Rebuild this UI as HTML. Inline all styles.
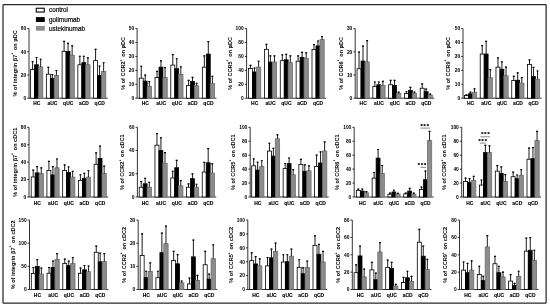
<!DOCTYPE html>
<html><head><meta charset="utf-8"><title>Figure</title>
<style>
html,body{margin:0;padding:0;background:#fff;}
body{width:550px;height:307px;overflow:hidden;}
svg{display:block;filter:blur(0.3px);}
text{font-family:"Liberation Sans",Arial,sans-serif;fill:#000;stroke:#000;stroke-width:0.2px;}
.tk text{font-size:5.6px;font-weight:bold;stroke-width:0.03px;}
.xl text{font-size:5.7px;font-weight:bold;stroke-width:0.14px;}
.yl{font-size:6.0px;font-weight:bold;stroke-width:0.02px;}
.sup{font-size:3.60px;}
.lg{font-size:7.3px;}
.st{font-size:5.5px;font-weight:bold;letter-spacing:1.0px;}
</style></head>
<body><svg width="550" height="307" viewBox="0 0 550 307">
<rect x="3.0" y="4.6" width="543.1" height="298.5" rx="0.6" fill="none" stroke="#2a2a2a" stroke-width="1.25"/>
<rect x="36.25" y="8.25" width="8.0" height="3.75" fill="#fff" stroke="#000" stroke-width="1.1"/>
<rect x="35.9" y="17.1" width="8.9" height="4.9" fill="#000"/>
<rect x="35.9" y="25.9" width="8.9" height="4.8" fill="#8c8c8c"/>
<text class="lg" transform="translate(49.0 12.3) scale(0.87 1)">control</text>
<text class="lg" transform="translate(49.0 21.7) scale(0.87 1)">golimumab</text>
<text class="lg" transform="translate(49.0 30.7) scale(0.87 1)">ustekinumab</text>
<path d="M29 28.6V98.2H107.7" fill="none" stroke="#000" stroke-width="0.8"/>
<path d="M27.2 98.2H29M27.2 75H29M27.2 51.8H29M27.2 28.6H29" stroke="#000" stroke-width="0.8"/>
<g class="tk"><text transform="translate(26.1 100.02) scale(0.87 1)" text-anchor="end">0</text><text transform="translate(26.1 76.82) scale(0.87 1)" text-anchor="end">20</text><text transform="translate(26.1 53.62) scale(0.87 1)" text-anchor="end">40</text><text transform="translate(26.1 30.42) scale(0.87 1)" text-anchor="end">60</text></g>
<text class="yl" transform="translate(16.5 63.4) rotate(-90) scale(0.93 1)" text-anchor="middle">% of integrin β7<tspan class="sup" dy="-3.6">+</tspan><tspan dy="3.6" dx="1.2"> on pDC</tspan></text>
<g stroke-width="0.8"><rect x="30.6" y="69.43" width="4" height="28.77" fill="#fff" stroke="#000"/><rect x="34.6" y="64.79" width="3.9" height="33.41" fill="#000" stroke="#000"/><rect x="38.5" y="66.88" width="4.3" height="31.32" fill="#8c8c8c" stroke="#6e6e6e"/><rect x="46.35" y="74.19" width="4" height="24.01" fill="#fff" stroke="#000"/><rect x="50.35" y="78.48" width="3.9" height="19.72" fill="#000" stroke="#000"/><rect x="54.25" y="75.46" width="4.3" height="22.74" fill="#8c8c8c" stroke="#6e6e6e"/><rect x="62.1" y="51.34" width="4" height="46.86" fill="#fff" stroke="#000"/><rect x="66.1" y="51.34" width="3.9" height="46.86" fill="#000" stroke="#000"/><rect x="70" y="55.28" width="4.3" height="42.92" fill="#8c8c8c" stroke="#6e6e6e"/><rect x="77.85" y="64.79" width="4" height="33.41" fill="#fff" stroke="#000"/><rect x="81.85" y="62.7" width="3.9" height="35.5" fill="#000" stroke="#000"/><rect x="85.75" y="64.79" width="4.3" height="33.41" fill="#8c8c8c" stroke="#6e6e6e"/><rect x="93.6" y="60.62" width="4" height="37.58" fill="#fff" stroke="#000"/><rect x="97.6" y="75.46" width="3.9" height="22.74" fill="#000" stroke="#000"/><rect x="101.5" y="71.52" width="4.3" height="26.68" fill="#8c8c8c" stroke="#6e6e6e"/></g>
<path d="M32.6 69.43V61.2M36.55 64.79V57.02M40.65 66.88V58.76M48.35 74.19V66.88M52.3 78.48V74.19M56.4 75.46V70.01M64.1 51.34V40.9M68.05 51.34V42.87M72.15 55.28V45.42M79.85 64.79V55.74M83.8 62.7V55.74M87.9 64.79V57.37M95.6 60.62V48.78M99.55 75.46V65.6M103.65 71.52V62.24" stroke="#000" stroke-width="0.9" fill="none"/>
<path d="M31.6 61.7H33.6M35.55 57.52H37.55M39.65 59.26H41.65M47.35 67.38H49.35M51.3 74.69H53.3M55.4 70.51H57.4M63.1 41.4H65.1M67.05 43.37H69.05M71.15 45.92H73.15M78.85 56.24H80.85M82.8 56.24H84.8M86.9 57.87H88.9M94.6 49.28H96.6M98.55 66.1H100.55M102.65 62.74H104.65" stroke="#000" stroke-width="1.2" fill="none"/>
<g class="xl"><text transform="translate(36.7 105.05) scale(0.87 1)" text-anchor="middle">HC</text><text transform="translate(52.45 105.05) scale(0.87 1)" text-anchor="middle">aUC</text><text transform="translate(68.2 105.05) scale(0.87 1)" text-anchor="middle">qUC</text><text transform="translate(83.95 105.05) scale(0.87 1)" text-anchor="middle">aCD</text><text transform="translate(99.7 105.05) scale(0.87 1)" text-anchor="middle">qCD</text></g>
<path d="M137.1 28.6V98.2H216.45" fill="none" stroke="#000" stroke-width="0.8"/>
<path d="M135.3 98.2H137.1M135.3 84.28H137.1M135.3 70.36H137.1M135.3 56.44H137.1M135.3 42.52H137.1M135.3 28.6H137.1" stroke="#000" stroke-width="0.8"/>
<g class="tk"><text transform="translate(134.2 100.02) scale(0.87 1)" text-anchor="end">0</text><text transform="translate(134.2 86.1) scale(0.87 1)" text-anchor="end">10</text><text transform="translate(134.2 72.18) scale(0.87 1)" text-anchor="end">20</text><text transform="translate(134.2 58.26) scale(0.87 1)" text-anchor="end">30</text><text transform="translate(134.2 44.34) scale(0.87 1)" text-anchor="end">40</text><text transform="translate(134.2 30.42) scale(0.87 1)" text-anchor="end">50</text></g>
<text class="yl" transform="translate(125.1 63.4) rotate(-90) scale(0.93 1)" text-anchor="middle">% of CCR2<tspan class="sup" dy="-3.6">+</tspan><tspan dy="3.6" dx="1.2"> on pDC</tspan></text>
<g stroke-width="0.8"><rect x="139.25" y="78.16" width="4" height="20.04" fill="#fff" stroke="#000"/><rect x="143.25" y="81.08" width="3.9" height="17.12" fill="#000" stroke="#000"/><rect x="147.15" y="86.37" width="4.3" height="11.83" fill="#8c8c8c" stroke="#6e6e6e"/><rect x="155.03" y="77.46" width="4" height="20.74" fill="#fff" stroke="#000"/><rect x="159.03" y="67.16" width="3.9" height="31.04" fill="#000" stroke="#000"/><rect x="162.93" y="77.46" width="4.3" height="20.74" fill="#8c8c8c" stroke="#6e6e6e"/><rect x="170.8" y="65.07" width="4" height="33.13" fill="#fff" stroke="#000"/><rect x="174.8" y="68.69" width="3.9" height="29.51" fill="#000" stroke="#000"/><rect x="178.7" y="74.54" width="4.3" height="23.66" fill="#8c8c8c" stroke="#6e6e6e"/><rect x="186.57" y="85.53" width="4" height="12.67" fill="#fff" stroke="#000"/><rect x="190.57" y="81.36" width="3.9" height="16.84" fill="#000" stroke="#000"/><rect x="194.47" y="85.81" width="4.3" height="12.39" fill="#8c8c8c" stroke="#6e6e6e"/><rect x="202.35" y="67.16" width="4" height="31.04" fill="#fff" stroke="#000"/><rect x="206.35" y="54.07" width="3.9" height="44.13" fill="#000" stroke="#000"/><rect x="210.25" y="83.31" width="4.3" height="14.89" fill="#8c8c8c" stroke="#6e6e6e"/></g>
<path d="M141.25 78.16V65.77M145.2 81.08V74.54M149.3 86.37V81.08M157.03 77.46V70.92M160.97 67.16V60.34M165.08 77.46V67.16M172.8 65.07V54.07M176.75 68.69V58.25M180.85 74.54V66.46M188.57 85.53V79.83M192.52 81.36V76.9M196.62 85.81V82.89M204.35 67.16V55.33M208.3 54.07V41.13M212.4 83.31V75.93" stroke="#000" stroke-width="0.9" fill="none"/>
<path d="M140.25 66.27H142.25M144.2 75.04H146.2M148.3 81.58H150.3M156.03 71.42H158.03M159.97 60.84H161.97M164.08 67.66H166.08M171.8 54.57H173.8M175.75 58.75H177.75M179.85 66.96H181.85M187.57 80.33H189.57M191.52 77.4H193.52M195.62 83.39H197.62M203.35 55.83H205.35M207.3 41.63H209.3M211.4 76.43H213.4" stroke="#000" stroke-width="1.2" fill="none"/>
<g class="xl"><text transform="translate(145.35 105.05) scale(0.87 1)" text-anchor="middle">HC</text><text transform="translate(161.12 105.05) scale(0.87 1)" text-anchor="middle">aUC</text><text transform="translate(176.9 105.05) scale(0.87 1)" text-anchor="middle">qUC</text><text transform="translate(192.67 105.05) scale(0.87 1)" text-anchor="middle">aCD</text><text transform="translate(208.45 105.05) scale(0.87 1)" text-anchor="middle">qCD</text></g>
<path d="M246.6 28.6V98.2H326.1" fill="none" stroke="#000" stroke-width="0.8"/>
<path d="M244.8 98.2H246.6M244.8 84.28H246.6M244.8 70.36H246.6M244.8 56.44H246.6M244.8 42.52H246.6M244.8 28.6H246.6" stroke="#000" stroke-width="0.8"/>
<g class="tk"><text transform="translate(243.7 100.02) scale(0.87 1)" text-anchor="end">0</text><text transform="translate(243.7 86.1) scale(0.87 1)" text-anchor="end">20</text><text transform="translate(243.7 72.18) scale(0.87 1)" text-anchor="end">40</text><text transform="translate(243.7 58.26) scale(0.87 1)" text-anchor="end">60</text><text transform="translate(243.7 44.34) scale(0.87 1)" text-anchor="end">80</text><text transform="translate(243.7 30.42) scale(0.87 1)" text-anchor="end">100</text></g>
<text class="yl" transform="translate(231.9 63.4) rotate(-90) scale(0.93 1)" text-anchor="middle">% of CCR5<tspan class="sup" dy="-3.6">+</tspan><tspan dy="3.6" dx="1.2"> on pDC</tspan></text>
<g stroke-width="0.8"><rect x="248.55" y="68.41" width="4" height="29.79" fill="#fff" stroke="#000"/><rect x="252.55" y="71.96" width="3.9" height="26.24" fill="#000" stroke="#000"/><rect x="256.45" y="67.16" width="4.3" height="31.04" fill="#8c8c8c" stroke="#6e6e6e"/><rect x="264.41" y="49.34" width="4" height="48.86" fill="#fff" stroke="#000"/><rect x="268.41" y="62.08" width="3.9" height="36.12" fill="#000" stroke="#000"/><rect x="272.31" y="62.08" width="4.3" height="36.12" fill="#8c8c8c" stroke="#6e6e6e"/><rect x="280.27" y="60.69" width="4" height="37.51" fill="#fff" stroke="#000"/><rect x="284.27" y="59.78" width="3.9" height="38.42" fill="#000" stroke="#000"/><rect x="288.17" y="62.7" width="4.3" height="35.5" fill="#8c8c8c" stroke="#6e6e6e"/><rect x="296.14" y="61.17" width="4" height="37.03" fill="#fff" stroke="#000"/><rect x="300.14" y="57.34" width="3.9" height="40.86" fill="#000" stroke="#000"/><rect x="304.04" y="58.25" width="4.3" height="39.95" fill="#8c8c8c" stroke="#6e6e6e"/><rect x="312" y="49.41" width="4" height="48.79" fill="#fff" stroke="#000"/><rect x="316" y="45.86" width="3.9" height="52.34" fill="#000" stroke="#000"/><rect x="319.9" y="39.6" width="4.3" height="58.6" fill="#8c8c8c" stroke="#6e6e6e"/></g>
<path d="M250.55 68.41V64.79M254.5 71.96V67.65M258.6 67.16V60.76M266.41 49.34V43.91M270.36 62.08V55.33M274.46 62.08V55.33M282.27 60.69V54.42M286.22 59.78V53.8M290.32 62.7V55.33M298.14 61.17V55.33M302.09 57.34V51.78M306.19 58.25V52.4M314 49.41V44.05M317.95 45.86V40.5M322.05 39.6V36.05" stroke="#000" stroke-width="0.9" fill="none"/>
<path d="M249.55 65.29H251.55M253.5 68.15H255.5M257.6 61.26H259.6M265.41 44.41H267.41M269.36 55.83H271.36M273.46 55.83H275.46M281.27 54.92H283.27M285.22 54.3H287.22M289.32 55.83H291.32M297.14 55.83H299.14M301.09 52.28H303.09M305.19 52.9H307.19M313 44.55H315M316.95 41H318.95M321.05 36.55H323.05" stroke="#000" stroke-width="1.2" fill="none"/>
<g class="xl"><text transform="translate(254.65 105.05) scale(0.87 1)" text-anchor="middle">HC</text><text transform="translate(270.51 105.05) scale(0.87 1)" text-anchor="middle">aUC</text><text transform="translate(286.38 105.05) scale(0.87 1)" text-anchor="middle">qUC</text><text transform="translate(302.24 105.05) scale(0.87 1)" text-anchor="middle">aCD</text><text transform="translate(318.1 105.05) scale(0.87 1)" text-anchor="middle">qCD</text></g>
<path d="M355.2 28.6V98.2H434.3" fill="none" stroke="#000" stroke-width="0.8"/>
<path d="M353.4 98.2H355.2M353.4 75H355.2M353.4 51.8H355.2M353.4 28.6H355.2" stroke="#000" stroke-width="0.8"/>
<g class="tk"><text transform="translate(352.3 100.02) scale(0.87 1)" text-anchor="end">0</text><text transform="translate(352.3 76.82) scale(0.87 1)" text-anchor="end">10</text><text transform="translate(352.3 53.62) scale(0.87 1)" text-anchor="end">20</text><text transform="translate(352.3 30.42) scale(0.87 1)" text-anchor="end">30</text></g>
<text class="yl" transform="translate(342.5 63.4) rotate(-90) scale(0.93 1)" text-anchor="middle">% of CCR6<tspan class="sup" dy="-3.6">+</tspan><tspan dy="3.6" dx="1.2"> on pDC</tspan></text>
<g stroke-width="0.8"><rect x="357.05" y="68.74" width="4" height="29.46" fill="#fff" stroke="#000"/><rect x="361.05" y="61.08" width="3.9" height="37.12" fill="#000" stroke="#000"/><rect x="364.95" y="62.01" width="4.3" height="36.19" fill="#8c8c8c" stroke="#6e6e6e"/><rect x="372.84" y="86.37" width="4" height="11.83" fill="#fff" stroke="#000"/><rect x="376.84" y="84.74" width="3.9" height="13.46" fill="#000" stroke="#000"/><rect x="380.74" y="85.44" width="4.3" height="12.76" fill="#8c8c8c" stroke="#6e6e6e"/><rect x="388.62" y="84.74" width="4" height="13.46" fill="#fff" stroke="#000"/><rect x="392.62" y="85.44" width="3.9" height="12.76" fill="#000" stroke="#000"/><rect x="396.52" y="93.56" width="4.3" height="4.64" fill="#8c8c8c" stroke="#6e6e6e"/><rect x="404.41" y="93.56" width="4" height="4.64" fill="#fff" stroke="#000"/><rect x="408.41" y="90.31" width="3.9" height="7.89" fill="#000" stroke="#000"/><rect x="412.31" y="93.33" width="4.3" height="4.87" fill="#8c8c8c" stroke="#6e6e6e"/><rect x="420.2" y="88.22" width="4" height="9.98" fill="#fff" stroke="#000"/><rect x="424.2" y="91.7" width="3.9" height="6.5" fill="#000" stroke="#000"/><rect x="428.1" y="95.18" width="4.3" height="3.02" fill="#8c8c8c" stroke="#6e6e6e"/></g>
<path d="M359.05 68.74V51.57M363 61.08V45.54M367.1 62.01V40.2M374.84 86.37V81.5M378.79 84.74V81.5M382.89 85.44V80.8M390.62 84.74V79.87M394.57 85.44V79.87M398.67 93.56V91.7M406.41 93.56V91.24M410.36 90.31V86.83M414.46 93.33V91.7M422.2 88.22V83.35M426.15 91.7V88.69M430.25 95.18V93.56" stroke="#000" stroke-width="0.9" fill="none"/>
<path d="M358.05 52.07H360.05M362 46.04H364M366.1 40.7H368.1M373.84 82H375.84M377.79 82H379.79M381.89 81.3H383.89M389.62 80.37H391.62M393.57 80.37H395.57M397.67 92.2H399.67M405.41 91.74H407.41M409.36 87.33H411.36M413.46 92.2H415.46M421.2 83.85H423.2M425.15 89.19H427.15M429.25 94.06H431.25" stroke="#000" stroke-width="1.2" fill="none"/>
<g class="xl"><text transform="translate(363.15 105.05) scale(0.87 1)" text-anchor="middle">HC</text><text transform="translate(378.94 105.05) scale(0.87 1)" text-anchor="middle">aUC</text><text transform="translate(394.73 105.05) scale(0.87 1)" text-anchor="middle">qUC</text><text transform="translate(410.51 105.05) scale(0.87 1)" text-anchor="middle">aCD</text><text transform="translate(426.3 105.05) scale(0.87 1)" text-anchor="middle">qCD</text></g>
<path d="M463 28.6V98.2H541.6" fill="none" stroke="#000" stroke-width="0.8"/>
<path d="M461.2 98.2H463M461.2 84.28H463M461.2 70.36H463M461.2 56.44H463M461.2 42.52H463M461.2 28.6H463" stroke="#000" stroke-width="0.8"/>
<g class="tk"><text transform="translate(460.1 100.02) scale(0.87 1)" text-anchor="end">0</text><text transform="translate(460.1 86.1) scale(0.87 1)" text-anchor="end">10</text><text transform="translate(460.1 72.18) scale(0.87 1)" text-anchor="end">20</text><text transform="translate(460.1 58.26) scale(0.87 1)" text-anchor="end">30</text><text transform="translate(460.1 44.34) scale(0.87 1)" text-anchor="end">40</text><text transform="translate(460.1 30.42) scale(0.87 1)" text-anchor="end">50</text></g>
<text class="yl" transform="translate(449.5 63.4) rotate(-90) scale(0.93 1)" text-anchor="middle">% of CCR9<tspan class="sup" dy="-3.6">+</tspan><tspan dy="3.6" dx="1.2"> on pDC</tspan></text>
<g stroke-width="0.8"><rect x="464.45" y="95.56" width="4" height="2.64" fill="#fff" stroke="#000"/><rect x="468.45" y="93.75" width="3.9" height="4.45" fill="#000" stroke="#000"/><rect x="472.35" y="92.21" width="4.3" height="5.99" fill="#8c8c8c" stroke="#6e6e6e"/><rect x="480.21" y="54.07" width="4" height="44.13" fill="#fff" stroke="#000"/><rect x="484.21" y="54.07" width="3.9" height="44.13" fill="#000" stroke="#000"/><rect x="488.11" y="77.74" width="4.3" height="20.46" fill="#8c8c8c" stroke="#6e6e6e"/><rect x="495.98" y="67.16" width="4" height="31.04" fill="#fff" stroke="#000"/><rect x="499.98" y="69.25" width="3.9" height="28.95" fill="#000" stroke="#000"/><rect x="503.88" y="75.79" width="4.3" height="22.41" fill="#8c8c8c" stroke="#6e6e6e"/><rect x="511.74" y="80.52" width="4" height="17.68" fill="#fff" stroke="#000"/><rect x="515.74" y="80.24" width="3.9" height="17.96" fill="#000" stroke="#000"/><rect x="519.64" y="83.17" width="4.3" height="15.03" fill="#8c8c8c" stroke="#6e6e6e"/><rect x="527.5" y="64.51" width="4" height="33.69" fill="#fff" stroke="#000"/><rect x="531.5" y="76.62" width="3.9" height="21.58" fill="#000" stroke="#000"/><rect x="535.4" y="79.27" width="4.3" height="18.93" fill="#8c8c8c" stroke="#6e6e6e"/></g>
<path d="M466.45 95.56V94.3M470.4 93.75V91.66M474.5 92.21V88.46M482.21 54.07V45.03M486.16 54.07V40.85M490.26 77.74V69.11M497.98 67.16V57.41M501.93 69.25V61.45M506.02 75.79V66.6M513.74 80.52V75.79M517.69 80.24V72.31M521.79 83.17V77.04M529.5 64.51V59.36M533.45 76.62V66.88M537.55 79.27V70.5" stroke="#000" stroke-width="0.9" fill="none"/>
<path d="M465.45 94.8H467.45M469.4 92.16H471.4M473.5 88.96H475.5M481.21 45.53H483.21M485.16 41.35H487.16M489.26 69.61H491.26M496.98 57.91H498.98M500.93 61.95H502.93M505.02 67.1H507.02M512.74 76.29H514.74M516.69 72.81H518.69M520.79 77.54H522.79M528.5 59.86H530.5M532.45 67.38H534.45M536.55 71H538.55" stroke="#000" stroke-width="1.2" fill="none"/>
<g class="xl"><text transform="translate(470.55 105.05) scale(0.87 1)" text-anchor="middle">HC</text><text transform="translate(486.31 105.05) scale(0.87 1)" text-anchor="middle">aUC</text><text transform="translate(502.08 105.05) scale(0.87 1)" text-anchor="middle">qUC</text><text transform="translate(517.84 105.05) scale(0.87 1)" text-anchor="middle">aCD</text><text transform="translate(533.6 105.05) scale(0.87 1)" text-anchor="middle">qCD</text></g>
<path d="M29 127.3V197H108.2" fill="none" stroke="#000" stroke-width="0.8"/>
<path d="M27.2 197H29M27.2 179.57H29M27.2 162.15H29M27.2 144.72H29M27.2 127.3H29" stroke="#000" stroke-width="0.8"/>
<g class="tk"><text transform="translate(26.1 198.82) scale(0.87 1)" text-anchor="end">0</text><text transform="translate(26.1 181.39) scale(0.87 1)" text-anchor="end">20</text><text transform="translate(26.1 163.97) scale(0.87 1)" text-anchor="end">40</text><text transform="translate(26.1 146.54) scale(0.87 1)" text-anchor="end">60</text><text transform="translate(26.1 129.12) scale(0.87 1)" text-anchor="end">80</text></g>
<text class="yl" transform="translate(16.5 162.15) rotate(-90) scale(0.93 1)" text-anchor="middle">% of integrin β7<tspan class="sup" dy="-3.6">+</tspan><tspan dy="3.6" dx="1.2"> on cDC1</tspan></text>
<g stroke-width="0.8"><rect x="31.2" y="176.96" width="4" height="20.04" fill="#fff" stroke="#000"/><rect x="35.2" y="172.87" width="3.9" height="24.13" fill="#000" stroke="#000"/><rect x="39.1" y="173.65" width="4.3" height="23.35" fill="#8c8c8c" stroke="#6e6e6e"/><rect x="46.92" y="170.43" width="4" height="26.57" fill="#fff" stroke="#000"/><rect x="50.92" y="174.96" width="3.9" height="22.04" fill="#000" stroke="#000"/><rect x="54.82" y="167.81" width="4.3" height="29.19" fill="#8c8c8c" stroke="#6e6e6e"/><rect x="62.65" y="170.43" width="4" height="26.57" fill="#fff" stroke="#000"/><rect x="66.65" y="172.43" width="3.9" height="24.57" fill="#000" stroke="#000"/><rect x="70.55" y="177.14" width="4.3" height="19.86" fill="#8c8c8c" stroke="#6e6e6e"/><rect x="78.38" y="180.45" width="4" height="16.55" fill="#fff" stroke="#000"/><rect x="82.38" y="178.27" width="3.9" height="18.73" fill="#000" stroke="#000"/><rect x="86.28" y="177.14" width="4.3" height="19.86" fill="#8c8c8c" stroke="#6e6e6e"/><rect x="94.1" y="164.33" width="4" height="32.67" fill="#fff" stroke="#000"/><rect x="98.1" y="158.49" width="3.9" height="38.51" fill="#000" stroke="#000"/><rect x="102" y="173.65" width="4.3" height="23.35" fill="#8c8c8c" stroke="#6e6e6e"/></g>
<path d="M33.2 176.96V169.64M37.15 172.87V166.16M41.25 173.65V167.46M48.92 170.43V160.84M52.88 174.96V166.16M56.97 167.81V158.49M64.65 170.43V164.33M68.6 172.43V166.51M72.7 177.14V170.95M80.38 180.45V174.26M84.33 178.27V172.95M88.43 177.14V170.25M96.1 164.33V152.3M100.05 158.49V145.68M104.15 173.65V165.72" stroke="#000" stroke-width="0.9" fill="none"/>
<path d="M32.2 170.14H34.2M36.15 166.66H38.15M40.25 167.96H42.25M47.92 161.34H49.92M51.88 166.66H53.88M55.97 158.99H57.97M63.65 164.83H65.65M67.6 167.01H69.6M71.7 171.45H73.7M79.38 174.76H81.38M83.33 173.45H85.33M87.43 170.75H89.43M95.1 152.8H97.1M99.05 146.18H101.05M103.15 166.22H105.15" stroke="#000" stroke-width="1.2" fill="none"/>
<g class="xl"><text transform="translate(37.3 204.75) scale(0.87 1)" text-anchor="middle">HC</text><text transform="translate(53.02 204.75) scale(0.87 1)" text-anchor="middle">aUC</text><text transform="translate(68.75 204.75) scale(0.87 1)" text-anchor="middle">qUC</text><text transform="translate(84.47 204.75) scale(0.87 1)" text-anchor="middle">aCD</text><text transform="translate(100.2 204.75) scale(0.87 1)" text-anchor="middle">qCD</text></g>
<path d="M137.4 127.3V197H216.35" fill="none" stroke="#000" stroke-width="0.8"/>
<path d="M135.6 197H137.4M135.6 173.77H137.4M135.6 150.53H137.4M135.6 127.3H137.4" stroke="#000" stroke-width="0.8"/>
<g class="tk"><text transform="translate(134.5 198.82) scale(0.87 1)" text-anchor="end">0</text><text transform="translate(134.5 175.58) scale(0.87 1)" text-anchor="end">20</text><text transform="translate(134.5 152.35) scale(0.87 1)" text-anchor="end">40</text><text transform="translate(134.5 129.12) scale(0.87 1)" text-anchor="end">60</text></g>
<text class="yl" transform="translate(124.2 162.15) rotate(-90) scale(0.93 1)" text-anchor="middle">% of CCR2<tspan class="sup" dy="-3.6">+</tspan><tspan dy="3.6" dx="1.2"> on cDC1</tspan></text>
<g stroke-width="0.8"><rect x="139.2" y="187.24" width="4" height="9.76" fill="#fff" stroke="#000"/><rect x="143.2" y="183.76" width="3.9" height="13.24" fill="#000" stroke="#000"/><rect x="147.1" y="187.24" width="4.3" height="9.76" fill="#8c8c8c" stroke="#6e6e6e"/><rect x="154.96" y="145.19" width="4" height="51.81" fill="#fff" stroke="#000"/><rect x="158.96" y="150.53" width="3.9" height="46.47" fill="#000" stroke="#000"/><rect x="162.86" y="163.31" width="4.3" height="33.69" fill="#8c8c8c" stroke="#6e6e6e"/><rect x="170.72" y="177.95" width="4" height="19.05" fill="#fff" stroke="#000"/><rect x="174.72" y="167.73" width="3.9" height="29.27" fill="#000" stroke="#000"/><rect x="178.62" y="185.85" width="4.3" height="11.15" fill="#8c8c8c" stroke="#6e6e6e"/><rect x="186.49" y="187.24" width="4" height="9.76" fill="#fff" stroke="#000"/><rect x="190.49" y="178.65" width="3.9" height="18.35" fill="#000" stroke="#000"/><rect x="194.39" y="187.24" width="4.3" height="9.76" fill="#8c8c8c" stroke="#6e6e6e"/><rect x="202.25" y="172.02" width="4" height="24.98" fill="#fff" stroke="#000"/><rect x="206.25" y="162.73" width="3.9" height="34.27" fill="#000" stroke="#000"/><rect x="210.15" y="173.19" width="4.3" height="23.81" fill="#8c8c8c" stroke="#6e6e6e"/></g>
<path d="M141.2 187.24V181.09M145.15 183.76V177.95M149.25 187.24V181.9M156.96 145.19V133.22M160.91 150.53V137.29M165.01 163.31V152.16M172.72 177.95V170.75M176.67 167.73V159.83M180.78 185.85V180.04M188.49 187.24V183.29M192.44 178.65V173.3M196.54 187.24V183.76M204.25 172.02V161.92M208.2 162.73V148.09M212.3 173.19V163.31" stroke="#000" stroke-width="0.9" fill="none"/>
<path d="M140.2 181.59H142.2M144.15 178.45H146.15M148.25 182.4H150.25M155.96 133.72H157.96M159.91 137.79H161.91M164.01 152.66H166.01M171.72 171.25H173.72M175.67 160.33H177.67M179.78 180.54H181.78M187.49 183.79H189.49M191.44 173.8H193.44M195.54 184.26H197.54M203.25 162.42H205.25M207.2 148.59H209.2M211.3 163.81H213.3" stroke="#000" stroke-width="1.2" fill="none"/>
<g class="xl"><text transform="translate(145.3 204.75) scale(0.87 1)" text-anchor="middle">HC</text><text transform="translate(161.06 204.75) scale(0.87 1)" text-anchor="middle">aUC</text><text transform="translate(176.82 204.75) scale(0.87 1)" text-anchor="middle">qUC</text><text transform="translate(192.59 204.75) scale(0.87 1)" text-anchor="middle">aCD</text><text transform="translate(208.35 204.75) scale(0.87 1)" text-anchor="middle">qCD</text></g>
<path d="M250.2 127.3V197H328.7" fill="none" stroke="#000" stroke-width="0.8"/>
<path d="M248.4 197H250.2M248.4 183.06H250.2M248.4 169.12H250.2M248.4 155.18H250.2M248.4 141.24H250.2M248.4 127.3H250.2" stroke="#000" stroke-width="0.8"/>
<g class="tk"><text transform="translate(247.3 198.82) scale(0.87 1)" text-anchor="end">0</text><text transform="translate(247.3 184.88) scale(0.87 1)" text-anchor="end">20</text><text transform="translate(247.3 170.94) scale(0.87 1)" text-anchor="end">40</text><text transform="translate(247.3 157) scale(0.87 1)" text-anchor="end">60</text><text transform="translate(247.3 143.06) scale(0.87 1)" text-anchor="end">80</text><text transform="translate(247.3 129.12) scale(0.87 1)" text-anchor="end">100</text></g>
<text class="yl" transform="translate(234.6 162.15) rotate(-90) scale(0.93 1)" text-anchor="middle">% of CCR5<tspan class="sup" dy="-3.6">+</tspan><tspan dy="3.6" dx="1.2"> on cDC1</tspan></text>
<g stroke-width="0.8"><rect x="251.7" y="165.84" width="4" height="31.16" fill="#fff" stroke="#000"/><rect x="255.7" y="170.03" width="3.9" height="26.97" fill="#000" stroke="#000"/><rect x="259.6" y="166.61" width="4.3" height="30.39" fill="#8c8c8c" stroke="#6e6e6e"/><rect x="267.43" y="151.07" width="4" height="45.93" fill="#fff" stroke="#000"/><rect x="271.43" y="156.09" width="3.9" height="40.91" fill="#000" stroke="#000"/><rect x="275.32" y="138.8" width="4.3" height="58.2" fill="#8c8c8c" stroke="#6e6e6e"/><rect x="283.15" y="168.63" width="4" height="28.37" fill="#fff" stroke="#000"/><rect x="287.15" y="163.61" width="3.9" height="33.39" fill="#000" stroke="#000"/><rect x="291.05" y="174.77" width="4.3" height="22.23" fill="#8c8c8c" stroke="#6e6e6e"/><rect x="298.88" y="164.38" width="4" height="32.62" fill="#fff" stroke="#000"/><rect x="302.88" y="171.35" width="3.9" height="25.65" fill="#000" stroke="#000"/><rect x="306.77" y="170.79" width="4.3" height="26.21" fill="#8c8c8c" stroke="#6e6e6e"/><rect x="314.6" y="166.4" width="4" height="30.6" fill="#fff" stroke="#000"/><rect x="318.6" y="162.99" width="3.9" height="34.01" fill="#000" stroke="#000"/><rect x="322.5" y="151.07" width="4.3" height="45.93" fill="#8c8c8c" stroke="#6e6e6e"/></g>
<path d="M253.7 165.84V158.32M257.65 170.03V161.73M261.75 166.61V160.27M269.43 151.07V142.77M273.38 156.09V147.79M277.47 138.8V134.41M285.15 168.63V162.99M289.1 163.61V157.48M293.2 174.77V169.12M300.88 164.38V158.87M304.82 171.35V164.38M308.92 170.79V165.29M316.6 166.4V154.69M320.55 162.99V151.35M324.65 151.07V141.31" stroke="#000" stroke-width="0.9" fill="none"/>
<path d="M252.7 158.82H254.7M256.65 162.23H258.65M260.75 160.77H262.75M268.43 143.27H270.43M272.38 148.29H274.38M276.47 134.91H278.47M284.15 163.49H286.15M288.1 157.98H290.1M292.2 169.62H294.2M299.88 159.37H301.88M303.82 164.88H305.82M307.92 165.79H309.92M315.6 155.19H317.6M319.55 151.85H321.55M323.65 141.81H325.65" stroke="#000" stroke-width="1.2" fill="none"/>
<g class="xl"><text transform="translate(257.8 204.75) scale(0.87 1)" text-anchor="middle">HC</text><text transform="translate(273.53 204.75) scale(0.87 1)" text-anchor="middle">aUC</text><text transform="translate(289.25 204.75) scale(0.87 1)" text-anchor="middle">qUC</text><text transform="translate(304.98 204.75) scale(0.87 1)" text-anchor="middle">aCD</text><text transform="translate(320.7 204.75) scale(0.87 1)" text-anchor="middle">qCD</text></g>
<path d="M354.2 127.3V197H433.6" fill="none" stroke="#000" stroke-width="0.8"/>
<path d="M352.4 197H354.2M352.4 183.06H354.2M352.4 169.12H354.2M352.4 155.18H354.2M352.4 141.24H354.2M352.4 127.3H354.2" stroke="#000" stroke-width="0.8"/>
<g class="tk"><text transform="translate(351.3 198.82) scale(0.87 1)" text-anchor="end">0</text><text transform="translate(351.3 184.88) scale(0.87 1)" text-anchor="end">20</text><text transform="translate(351.3 170.94) scale(0.87 1)" text-anchor="end">40</text><text transform="translate(351.3 157) scale(0.87 1)" text-anchor="end">60</text><text transform="translate(351.3 143.06) scale(0.87 1)" text-anchor="end">80</text><text transform="translate(351.3 129.12) scale(0.87 1)" text-anchor="end">100</text></g>
<text class="yl" transform="translate(338.8 162.15) rotate(-90) scale(0.93 1)" text-anchor="middle">% of CCR6<tspan class="sup" dy="-3.6">+</tspan><tspan dy="3.6" dx="1.2"> on cDC1</tspan></text>
<g stroke-width="0.8"><rect x="356.35" y="190.59" width="4" height="6.41" fill="#fff" stroke="#000"/><rect x="360.35" y="191.15" width="3.9" height="5.85" fill="#000" stroke="#000"/><rect x="364.25" y="192.82" width="4.3" height="4.18" fill="#8c8c8c" stroke="#6e6e6e"/><rect x="372.14" y="178.11" width="4" height="18.89" fill="#fff" stroke="#000"/><rect x="376.14" y="158.11" width="3.9" height="38.89" fill="#000" stroke="#000"/><rect x="380.04" y="173.37" width="4.3" height="23.63" fill="#8c8c8c" stroke="#6e6e6e"/><rect x="387.93" y="194.21" width="4" height="2.79" fill="#fff" stroke="#000"/><rect x="391.93" y="191.98" width="3.9" height="5.02" fill="#000" stroke="#000"/><rect x="395.82" y="194.21" width="4.3" height="2.79" fill="#8c8c8c" stroke="#6e6e6e"/><rect x="403.71" y="193.93" width="4" height="3.07" fill="#fff" stroke="#000"/><rect x="407.71" y="191.15" width="3.9" height="5.85" fill="#000" stroke="#000"/><rect x="411.61" y="194.21" width="4.3" height="2.79" fill="#8c8c8c" stroke="#6e6e6e"/><rect x="419.5" y="189.47" width="4" height="7.53" fill="#fff" stroke="#000"/><rect x="423.5" y="179.71" width="3.9" height="17.29" fill="#000" stroke="#000"/><rect x="427.4" y="140.61" width="4.3" height="56.39" fill="#8c8c8c" stroke="#6e6e6e"/></g>
<path d="M358.35 190.59V188.64M362.3 191.15V188.64M366.4 192.82V191.15M374.14 178.11V171.98M378.09 158.11V148.98M382.19 173.37V165.01M389.93 194.21V192.54M393.88 191.98V189.75M397.97 194.21V192.82M405.71 193.93V192.54M409.66 191.15V187.87M413.76 194.21V192.54M421.5 189.47V186.54M425.45 179.71V170.65M429.55 140.61V130.92" stroke="#000" stroke-width="0.9" fill="none"/>
<path d="M357.35 189.14H359.35M361.3 189.14H363.3M365.4 191.65H367.4M373.14 172.48H375.14M377.09 149.48H379.09M381.19 165.51H383.19M388.93 193.04H390.93M392.88 190.25H394.88M396.97 193.32H398.97M404.71 193.04H406.71M408.66 188.37H410.66M412.76 193.04H414.76M420.5 187.04H422.5M424.45 171.15H426.45M428.55 131.42H430.55" stroke="#000" stroke-width="1.2" fill="none"/>
<g class="xl"><text transform="translate(362.45 204.75) scale(0.87 1)" text-anchor="middle">HC</text><text transform="translate(378.24 204.75) scale(0.87 1)" text-anchor="middle">aUC</text><text transform="translate(394.03 204.75) scale(0.87 1)" text-anchor="middle">qUC</text><text transform="translate(409.81 204.75) scale(0.87 1)" text-anchor="middle">aCD</text><text transform="translate(425.6 204.75) scale(0.87 1)" text-anchor="middle">qCD</text></g>
<path d="M461.7 127.3V197H541.1" fill="none" stroke="#000" stroke-width="0.8"/>
<path d="M459.9 197H461.7M459.9 183.06H461.7M459.9 169.12H461.7M459.9 155.18H461.7M459.9 141.24H461.7M459.9 127.3H461.7" stroke="#000" stroke-width="0.8"/>
<g class="tk"><text transform="translate(458.8 198.82) scale(0.87 1)" text-anchor="end">0</text><text transform="translate(458.8 184.88) scale(0.87 1)" text-anchor="end">20</text><text transform="translate(458.8 170.94) scale(0.87 1)" text-anchor="end">40</text><text transform="translate(458.8 157) scale(0.87 1)" text-anchor="end">60</text><text transform="translate(458.8 143.06) scale(0.87 1)" text-anchor="end">80</text><text transform="translate(458.8 129.12) scale(0.87 1)" text-anchor="end">100</text></g>
<text class="yl" transform="translate(446.1 162.15) rotate(-90) scale(0.93 1)" text-anchor="middle">% of CCR9<tspan class="sup" dy="-3.6">+</tspan><tspan dy="3.6" dx="1.2"> on cDC1</tspan></text>
<g stroke-width="0.8"><rect x="463.6" y="181.46" width="4" height="15.54" fill="#fff" stroke="#000"/><rect x="467.6" y="182.29" width="3.9" height="14.71" fill="#000" stroke="#000"/><rect x="471.5" y="180.34" width="4.3" height="16.66" fill="#8c8c8c" stroke="#6e6e6e"/><rect x="479.45" y="185.08" width="4" height="11.92" fill="#fff" stroke="#000"/><rect x="483.45" y="152.6" width="3.9" height="44.4" fill="#000" stroke="#000"/><rect x="487.35" y="152.6" width="4.3" height="44.4" fill="#8c8c8c" stroke="#6e6e6e"/><rect x="495.3" y="171.14" width="4" height="25.86" fill="#fff" stroke="#000"/><rect x="499.3" y="173.37" width="3.9" height="23.63" fill="#000" stroke="#000"/><rect x="503.2" y="181.46" width="4.3" height="15.54" fill="#8c8c8c" stroke="#6e6e6e"/><rect x="511.15" y="176.72" width="4" height="20.28" fill="#fff" stroke="#000"/><rect x="515.15" y="178.67" width="3.9" height="18.33" fill="#000" stroke="#000"/><rect x="519.05" y="175.32" width="4.3" height="21.68" fill="#8c8c8c" stroke="#6e6e6e"/><rect x="527" y="159.22" width="4" height="37.78" fill="#fff" stroke="#000"/><rect x="531" y="158.66" width="3.9" height="38.34" fill="#000" stroke="#000"/><rect x="534.9" y="140.61" width="4.3" height="56.39" fill="#8c8c8c" stroke="#6e6e6e"/></g>
<path d="M465.6 181.46V177.55M469.55 182.29V178.11M473.65 180.34V175.88M481.45 185.08V179.51M485.4 152.6V144.79M489.5 152.6V145.35M497.3 171.14V165.08M501.25 173.37V166.47M505.35 181.46V174.21M513.15 176.72V171.7M517.1 178.67V174.49M521.2 175.32V169.26M529 159.22V147.58M532.95 158.66V147.03M537.05 140.61V130.92" stroke="#000" stroke-width="0.9" fill="none"/>
<path d="M464.6 178.05H466.6M468.55 178.61H470.55M472.65 176.38H474.65M480.45 180.01H482.45M484.4 145.29H486.4M488.5 145.85H490.5M496.3 165.58H498.3M500.25 166.97H502.25M504.35 174.71H506.35M512.15 172.2H514.15M516.1 174.99H518.1M520.2 169.76H522.2M528 148.08H530M531.95 147.53H533.95M536.05 131.42H538.05" stroke="#000" stroke-width="1.2" fill="none"/>
<g class="xl"><text transform="translate(469.7 204.75) scale(0.87 1)" text-anchor="middle">HC</text><text transform="translate(485.55 204.75) scale(0.87 1)" text-anchor="middle">aUC</text><text transform="translate(501.4 204.75) scale(0.87 1)" text-anchor="middle">qUC</text><text transform="translate(517.25 204.75) scale(0.87 1)" text-anchor="middle">aCD</text><text transform="translate(533.1 204.75) scale(0.87 1)" text-anchor="middle">qCD</text></g>
<path d="M29.5 220.1V289.5H108.35" fill="none" stroke="#000" stroke-width="0.8"/>
<path d="M27.7 289.5H29.5M27.7 266.37H29.5M27.7 243.23H29.5M27.7 220.1H29.5" stroke="#000" stroke-width="0.8"/>
<g class="tk"><text transform="translate(26.6 291.32) scale(0.87 1)" text-anchor="end">0</text><text transform="translate(26.6 268.18) scale(0.87 1)" text-anchor="end">50</text><text transform="translate(26.6 245.05) scale(0.87 1)" text-anchor="end">100</text><text transform="translate(26.6 221.92) scale(0.87 1)" text-anchor="end">150</text></g>
<text class="yl" transform="translate(14.6 254.8) rotate(-90) scale(0.93 1)" text-anchor="middle">% of integrin β7<tspan class="sup" dy="-3.6">+</tspan><tspan dy="3.6" dx="1.2"> on cDC2</tspan></text>
<g stroke-width="0.8"><rect x="31.3" y="273.49" width="4" height="16.01" fill="#fff" stroke="#000"/><rect x="35.3" y="266.46" width="3.9" height="23.04" fill="#000" stroke="#000"/><rect x="39.2" y="274.05" width="4.3" height="15.45" fill="#8c8c8c" stroke="#6e6e6e"/><rect x="47.04" y="273.21" width="4" height="16.29" fill="#fff" stroke="#000"/><rect x="51.04" y="267.57" width="3.9" height="21.93" fill="#000" stroke="#000"/><rect x="54.94" y="259.43" width="4.3" height="30.07" fill="#8c8c8c" stroke="#6e6e6e"/><rect x="62.78" y="263.36" width="4" height="26.14" fill="#fff" stroke="#000"/><rect x="66.78" y="265.63" width="3.9" height="23.87" fill="#000" stroke="#000"/><rect x="70.68" y="263.36" width="4.3" height="26.14" fill="#8c8c8c" stroke="#6e6e6e"/><rect x="78.51" y="273.21" width="4" height="16.29" fill="#fff" stroke="#000"/><rect x="82.51" y="269.84" width="3.9" height="19.66" fill="#000" stroke="#000"/><rect x="86.41" y="271.78" width="4.3" height="17.72" fill="#8c8c8c" stroke="#6e6e6e"/><rect x="94.25" y="252.26" width="4" height="37.24" fill="#fff" stroke="#000"/><rect x="98.25" y="261.83" width="3.9" height="27.67" fill="#000" stroke="#000"/><rect x="102.15" y="261.65" width="4.3" height="27.85" fill="#8c8c8c" stroke="#6e6e6e"/></g>
<path d="M33.3 273.49V267.01M37.25 266.46V259.15M41.35 274.05V267.57M49.04 273.21V267.01M52.99 267.57V260.54M57.09 259.43V253.18M64.78 263.36V258.59M68.73 265.63V260.54M72.83 263.36V257.16M80.51 273.21V267.57M84.46 269.84V265.02M88.56 271.78V265.63M96.25 252.26V245.55M100.2 261.83V252.72M104.3 261.65V253.18" stroke="#000" stroke-width="0.9" fill="none"/>
<path d="M32.3 267.51H34.3M36.25 259.65H38.25M40.35 268.07H42.35M48.04 267.51H50.04M51.99 261.04H53.99M56.09 253.68H58.09M63.78 259.09H65.78M67.73 261.04H69.73M71.83 257.66H73.83M79.51 268.07H81.51M83.46 265.52H85.46M87.56 266.13H89.56M95.25 246.05H97.25M99.2 253.22H101.2M103.3 253.68H105.3" stroke="#000" stroke-width="1.2" fill="none"/>
<g class="xl"><text transform="translate(37.4 296.95) scale(0.87 1)" text-anchor="middle">HC</text><text transform="translate(53.14 296.95) scale(0.87 1)" text-anchor="middle">aUC</text><text transform="translate(68.88 296.95) scale(0.87 1)" text-anchor="middle">qUC</text><text transform="translate(84.61 296.95) scale(0.87 1)" text-anchor="middle">aCD</text><text transform="translate(100.35 296.95) scale(0.87 1)" text-anchor="middle">qCD</text></g>
<path d="M138.2 220.1V289.5H217.3" fill="none" stroke="#000" stroke-width="0.8"/>
<path d="M136.4 289.5H138.2M136.4 266.37H138.2M136.4 243.23H138.2M136.4 220.1H138.2" stroke="#000" stroke-width="0.8"/>
<g class="tk"><text transform="translate(135.3 291.32) scale(0.87 1)" text-anchor="end">0</text><text transform="translate(135.3 268.18) scale(0.87 1)" text-anchor="end">10</text><text transform="translate(135.3 245.05) scale(0.87 1)" text-anchor="end">20</text><text transform="translate(135.3 221.92) scale(0.87 1)" text-anchor="end">30</text></g>
<text class="yl" transform="translate(125.6 254.8) rotate(-90) scale(0.93 1)" text-anchor="middle">% of CCR2<tspan class="sup" dy="-3.6">+</tspan><tspan dy="3.6" dx="1.2"> on cDC2</tspan></text>
<g stroke-width="0.8"><rect x="140.15" y="255.49" width="4" height="34.01" fill="#fff" stroke="#000"/><rect x="144.15" y="277.7" width="3.9" height="11.8" fill="#000" stroke="#000"/><rect x="148.05" y="271.46" width="4.3" height="18.04" fill="#8c8c8c" stroke="#6e6e6e"/><rect x="155.91" y="277.7" width="4" height="11.8" fill="#fff" stroke="#000"/><rect x="159.91" y="252.72" width="3.9" height="36.78" fill="#000" stroke="#000"/><rect x="163.81" y="243.7" width="4.3" height="45.8" fill="#8c8c8c" stroke="#6e6e6e"/><rect x="171.68" y="260.58" width="4" height="28.92" fill="#fff" stroke="#000"/><rect x="175.68" y="263.82" width="3.9" height="25.68" fill="#000" stroke="#000"/><rect x="179.58" y="282.79" width="4.3" height="6.71" fill="#8c8c8c" stroke="#6e6e6e"/><rect x="187.44" y="283.95" width="4" height="5.55" fill="#fff" stroke="#000"/><rect x="191.44" y="256.88" width="3.9" height="32.62" fill="#000" stroke="#000"/><rect x="195.34" y="280.48" width="4.3" height="9.02" fill="#8c8c8c" stroke="#6e6e6e"/><rect x="203.2" y="264.75" width="4" height="24.75" fill="#fff" stroke="#000"/><rect x="207.2" y="279.09" width="3.9" height="10.41" fill="#000" stroke="#000"/><rect x="211.1" y="258.73" width="4.3" height="30.77" fill="#8c8c8c" stroke="#6e6e6e"/></g>
<path d="M142.15 255.49V233.29M146.1 277.7V270.76M150.2 271.46V262.43M157.91 277.7V270.76M161.86 252.72V232.59M165.96 243.7V225.65M173.68 260.58V250.87M177.62 263.82V254.11M181.73 282.79V280.48M189.44 283.95V277.7M193.39 256.88V239.53M197.49 280.48V274.93M205.2 264.75V250.87M209.15 279.09V273.54M213.25 258.73V244.39" stroke="#000" stroke-width="0.9" fill="none"/>
<path d="M141.15 233.79H143.15M145.1 271.26H147.1M149.2 262.93H151.2M156.91 271.26H158.91M160.86 233.09H162.86M164.96 226.15H166.96M172.68 251.37H174.68M176.62 254.61H178.62M180.73 280.98H182.73M188.44 278.2H190.44M192.39 240.03H194.39M196.49 275.43H198.49M204.2 251.37H206.2M208.15 274.04H210.15M212.25 244.89H214.25" stroke="#000" stroke-width="1.2" fill="none"/>
<g class="xl"><text transform="translate(146.25 296.95) scale(0.87 1)" text-anchor="middle">HC</text><text transform="translate(162.01 296.95) scale(0.87 1)" text-anchor="middle">aUC</text><text transform="translate(177.78 296.95) scale(0.87 1)" text-anchor="middle">qUC</text><text transform="translate(193.54 296.95) scale(0.87 1)" text-anchor="middle">aCD</text><text transform="translate(209.3 296.95) scale(0.87 1)" text-anchor="middle">qCD</text></g>
<path d="M247.8 220.1V289.5H327.1" fill="none" stroke="#000" stroke-width="0.8"/>
<path d="M246 289.5H247.8M246 275.62H247.8M246 261.74H247.8M246 247.86H247.8M246 233.98H247.8M246 220.1H247.8" stroke="#000" stroke-width="0.8"/>
<g class="tk"><text transform="translate(244.9 291.32) scale(0.87 1)" text-anchor="end">0</text><text transform="translate(244.9 277.44) scale(0.87 1)" text-anchor="end">20</text><text transform="translate(244.9 263.56) scale(0.87 1)" text-anchor="end">40</text><text transform="translate(244.9 249.68) scale(0.87 1)" text-anchor="end">60</text><text transform="translate(244.9 235.8) scale(0.87 1)" text-anchor="end">80</text><text transform="translate(244.9 221.92) scale(0.87 1)" text-anchor="end">100</text></g>
<text class="yl" transform="translate(233.1 254.8) rotate(-90) scale(0.93 1)" text-anchor="middle">% of CCR5<tspan class="sup" dy="-3.6">+</tspan><tspan dy="3.6" dx="1.2"> on cDC2</tspan></text>
<g stroke-width="0.8"><rect x="249.7" y="260.63" width="4" height="28.87" fill="#fff" stroke="#000"/><rect x="253.7" y="263.96" width="3.9" height="25.54" fill="#000" stroke="#000"/><rect x="257.6" y="265.9" width="4.3" height="23.6" fill="#8c8c8c" stroke="#6e6e6e"/><rect x="265.52" y="265.9" width="4" height="23.6" fill="#fff" stroke="#000"/><rect x="269.52" y="257.85" width="3.9" height="31.65" fill="#000" stroke="#000"/><rect x="273.42" y="251.47" width="4.3" height="38.03" fill="#8c8c8c" stroke="#6e6e6e"/><rect x="281.35" y="262.02" width="4" height="27.48" fill="#fff" stroke="#000"/><rect x="285.35" y="261.74" width="3.9" height="27.76" fill="#000" stroke="#000"/><rect x="289.25" y="256.19" width="4.3" height="33.31" fill="#8c8c8c" stroke="#6e6e6e"/><rect x="297.18" y="267.29" width="4" height="22.21" fill="#fff" stroke="#000"/><rect x="301.18" y="273.68" width="3.9" height="15.82" fill="#000" stroke="#000"/><rect x="305.07" y="267.57" width="4.3" height="21.93" fill="#8c8c8c" stroke="#6e6e6e"/><rect x="313" y="245.36" width="4" height="44.14" fill="#fff" stroke="#000"/><rect x="317" y="254.24" width="3.9" height="35.26" fill="#000" stroke="#000"/><rect x="320.9" y="262.02" width="4.3" height="27.48" fill="#8c8c8c" stroke="#6e6e6e"/></g>
<path d="M251.7 260.63V252.3M255.65 263.96V256.19M259.75 265.9V258.41M267.52 265.9V257.02M271.47 257.85V248.69M275.57 251.47V242.59M283.35 262.02V254.24M287.3 261.74V254.24M291.4 256.19V248.69M299.18 267.29V259.24M303.12 273.68V267.29M307.22 267.57V260.63M315 245.36V235.37M318.95 254.24V243.97M323.05 262.02V250.91" stroke="#000" stroke-width="0.9" fill="none"/>
<path d="M250.7 252.8H252.7M254.65 256.69H256.65M258.75 258.91H260.75M266.52 257.52H268.52M270.47 249.19H272.47M274.57 243.09H276.57M282.35 254.74H284.35M286.3 254.74H288.3M290.4 249.19H292.4M298.18 259.74H300.18M302.12 267.79H304.12M306.22 261.13H308.22M314 235.87H316M317.95 244.47H319.95M322.05 251.41H324.05" stroke="#000" stroke-width="1.2" fill="none"/>
<g class="xl"><text transform="translate(255.8 296.95) scale(0.87 1)" text-anchor="middle">HC</text><text transform="translate(271.62 296.95) scale(0.87 1)" text-anchor="middle">aUC</text><text transform="translate(287.45 296.95) scale(0.87 1)" text-anchor="middle">qUC</text><text transform="translate(303.28 296.95) scale(0.87 1)" text-anchor="middle">aCD</text><text transform="translate(319.1 296.95) scale(0.87 1)" text-anchor="middle">qCD</text></g>
<path d="M352.3 220.1V289.5H431.4" fill="none" stroke="#000" stroke-width="0.8"/>
<path d="M350.5 289.5H352.3M350.5 272.15H352.3M350.5 254.8H352.3M350.5 237.45H352.3M350.5 220.1H352.3" stroke="#000" stroke-width="0.8"/>
<g class="tk"><text transform="translate(349.4 291.32) scale(0.87 1)" text-anchor="end">0</text><text transform="translate(349.4 273.97) scale(0.87 1)" text-anchor="end">20</text><text transform="translate(349.4 256.62) scale(0.87 1)" text-anchor="end">40</text><text transform="translate(349.4 239.27) scale(0.87 1)" text-anchor="end">60</text><text transform="translate(349.4 221.92) scale(0.87 1)" text-anchor="end">80</text></g>
<text class="yl" transform="translate(340.1 254.8) rotate(-90) scale(0.93 1)" text-anchor="middle">% of CCR6<tspan class="sup" dy="-3.6">+</tspan><tspan dy="3.6" dx="1.2"> on cDC2</tspan></text>
<g stroke-width="0.8"><rect x="354.1" y="272.67" width="4" height="16.83" fill="#fff" stroke="#000"/><rect x="358.1" y="255.93" width="3.9" height="33.57" fill="#000" stroke="#000"/><rect x="362" y="276.92" width="4.3" height="12.58" fill="#8c8c8c" stroke="#6e6e6e"/><rect x="369.9" y="269.89" width="4" height="19.61" fill="#fff" stroke="#000"/><rect x="373.9" y="279.7" width="3.9" height="9.8" fill="#000" stroke="#000"/><rect x="377.8" y="252.02" width="4.3" height="37.48" fill="#8c8c8c" stroke="#6e6e6e"/><rect x="385.7" y="267.38" width="4" height="22.12" fill="#fff" stroke="#000"/><rect x="389.7" y="268.51" width="3.9" height="20.99" fill="#000" stroke="#000"/><rect x="393.6" y="286.12" width="4.3" height="3.38" fill="#8c8c8c" stroke="#6e6e6e"/><rect x="401.5" y="282.47" width="4" height="7.03" fill="#fff" stroke="#000"/><rect x="405.5" y="277.79" width="3.9" height="11.71" fill="#000" stroke="#000"/><rect x="409.4" y="281.35" width="4.3" height="8.15" fill="#8c8c8c" stroke="#6e6e6e"/><rect x="417.3" y="242.22" width="4" height="47.28" fill="#fff" stroke="#000"/><rect x="421.3" y="256.19" width="3.9" height="33.31" fill="#000" stroke="#000"/><rect x="425.2" y="269.37" width="4.3" height="20.13" fill="#8c8c8c" stroke="#6e6e6e"/></g>
<path d="M356.1 272.67V264.34M360.05 255.93V245.6M364.15 276.92V268.51M371.9 269.89V261.83M375.85 279.7V272.67M379.95 252.02V242.22M387.7 267.38V259.57M391.65 268.51V261.83M395.75 286.12V283.86M403.5 282.47V276.92M407.45 277.79V270.76M411.55 281.35V275.79M419.3 242.22V228.78M423.25 256.19V245.6M427.35 269.37V258.96" stroke="#000" stroke-width="0.9" fill="none"/>
<path d="M355.1 264.84H357.1M359.05 246.1H361.05M363.15 269.01H365.15M370.9 262.33H372.9M374.85 273.17H376.85M378.95 242.72H380.95M386.7 260.07H388.7M390.65 262.33H392.65M394.75 284.36H396.75M402.5 277.42H404.5M406.45 271.26H408.45M410.55 276.29H412.55M418.3 229.28H420.3M422.25 246.1H424.25M426.35 259.46H428.35" stroke="#000" stroke-width="1.2" fill="none"/>
<g class="xl"><text transform="translate(360.2 296.95) scale(0.87 1)" text-anchor="middle">HC</text><text transform="translate(376 296.95) scale(0.87 1)" text-anchor="middle">aUC</text><text transform="translate(391.8 296.95) scale(0.87 1)" text-anchor="middle">qUC</text><text transform="translate(407.6 296.95) scale(0.87 1)" text-anchor="middle">aCD</text><text transform="translate(423.4 296.95) scale(0.87 1)" text-anchor="middle">qCD</text></g>
<path d="M459.5 220.1V289.5H538.4" fill="none" stroke="#000" stroke-width="0.8"/>
<path d="M457.7 289.5H459.5M457.7 272.15H459.5M457.7 254.8H459.5M457.7 237.45H459.5M457.7 220.1H459.5" stroke="#000" stroke-width="0.8"/>
<g class="tk"><text transform="translate(456.6 291.32) scale(0.87 1)" text-anchor="end">0</text><text transform="translate(456.6 273.97) scale(0.87 1)" text-anchor="end">20</text><text transform="translate(456.6 256.62) scale(0.87 1)" text-anchor="end">40</text><text transform="translate(456.6 239.27) scale(0.87 1)" text-anchor="end">60</text><text transform="translate(456.6 221.92) scale(0.87 1)" text-anchor="end">80</text></g>
<text class="yl" transform="translate(447.4 254.8) rotate(-90) scale(0.93 1)" text-anchor="middle">% of CCR9<tspan class="sup" dy="-3.6">+</tspan><tspan dy="3.6" dx="1.2"> on cDC2</tspan></text>
<g stroke-width="0.8"><rect x="461.6" y="270.15" width="4" height="19.35" fill="#fff" stroke="#000"/><rect x="465.6" y="272.67" width="3.9" height="16.83" fill="#000" stroke="#000"/><rect x="469.5" y="270.15" width="4.3" height="19.35" fill="#8c8c8c" stroke="#6e6e6e"/><rect x="477.27" y="274.41" width="4" height="15.09" fill="#fff" stroke="#000"/><rect x="481.27" y="280.56" width="3.9" height="8.94" fill="#000" stroke="#000"/><rect x="485.17" y="246.99" width="4.3" height="42.51" fill="#8c8c8c" stroke="#6e6e6e"/><rect x="492.95" y="263.74" width="4" height="25.76" fill="#fff" stroke="#000"/><rect x="496.95" y="272.67" width="3.9" height="16.83" fill="#000" stroke="#000"/><rect x="500.85" y="276.92" width="4.3" height="12.58" fill="#8c8c8c" stroke="#6e6e6e"/><rect x="508.62" y="281.09" width="4" height="8.41" fill="#fff" stroke="#000"/><rect x="512.62" y="285.34" width="3.9" height="4.16" fill="#000" stroke="#000"/><rect x="516.52" y="276.31" width="4.3" height="13.19" fill="#8c8c8c" stroke="#6e6e6e"/><rect x="524.3" y="251.16" width="4" height="38.34" fill="#fff" stroke="#000"/><rect x="528.3" y="250.29" width="3.9" height="39.21" fill="#000" stroke="#000"/><rect x="532.2" y="260.44" width="4.3" height="29.06" fill="#8c8c8c" stroke="#6e6e6e"/></g>
<path d="M463.6 270.15V261.48M467.55 272.67V262.95M471.65 270.15V260.44M479.27 274.41V265.73M483.22 280.56V275.79M487.32 246.99V235.19M494.95 263.74V255.93M498.9 272.67V265.73M503 276.92V271.63M510.62 281.09V274.15M514.58 285.34V282.82M518.67 276.31V270.76M526.3 251.16V237.71M530.25 250.29V237.19M534.35 260.44V249.77" stroke="#000" stroke-width="0.9" fill="none"/>
<path d="M462.6 261.98H464.6M466.55 263.45H468.55M470.65 260.94H472.65M478.27 266.23H480.27M482.22 276.29H484.22M486.32 235.69H488.32M493.95 256.43H495.95M497.9 266.23H499.9M502 272.13H504M509.62 274.65H511.62M513.58 283.32H515.58M517.67 271.26H519.67M525.3 238.21H527.3M529.25 237.69H531.25M533.35 250.27H535.35" stroke="#000" stroke-width="1.2" fill="none"/>
<g class="xl"><text transform="translate(467.7 296.95) scale(0.87 1)" text-anchor="middle">HC</text><text transform="translate(483.38 296.95) scale(0.87 1)" text-anchor="middle">aUC</text><text transform="translate(499.05 296.95) scale(0.87 1)" text-anchor="middle">qUC</text><text transform="translate(514.73 296.95) scale(0.87 1)" text-anchor="middle">aCD</text><text transform="translate(530.4 296.95) scale(0.87 1)" text-anchor="middle">qCD</text></g>
<text class="st" x="420.4" y="127.81">***</text>
<path d="M420.5 128.1H429.9" stroke="#8a8a8a" stroke-width="1"/>
<text class="st" x="417.8" y="166.81">***</text>
<path d="M420.5 167.4H426.0" stroke="#8a8a8a" stroke-width="1"/>
<text class="st" x="481.2" y="136.21">***</text>
<path d="M480.4 136.8H490.0" stroke="#8a8a8a" stroke-width="1"/>
<text class="st" x="478.4" y="142.5">***</text>
<path d="M480.1 143.1H485.8" stroke="#8a8a8a" stroke-width="1"/>
</svg></body></html>
